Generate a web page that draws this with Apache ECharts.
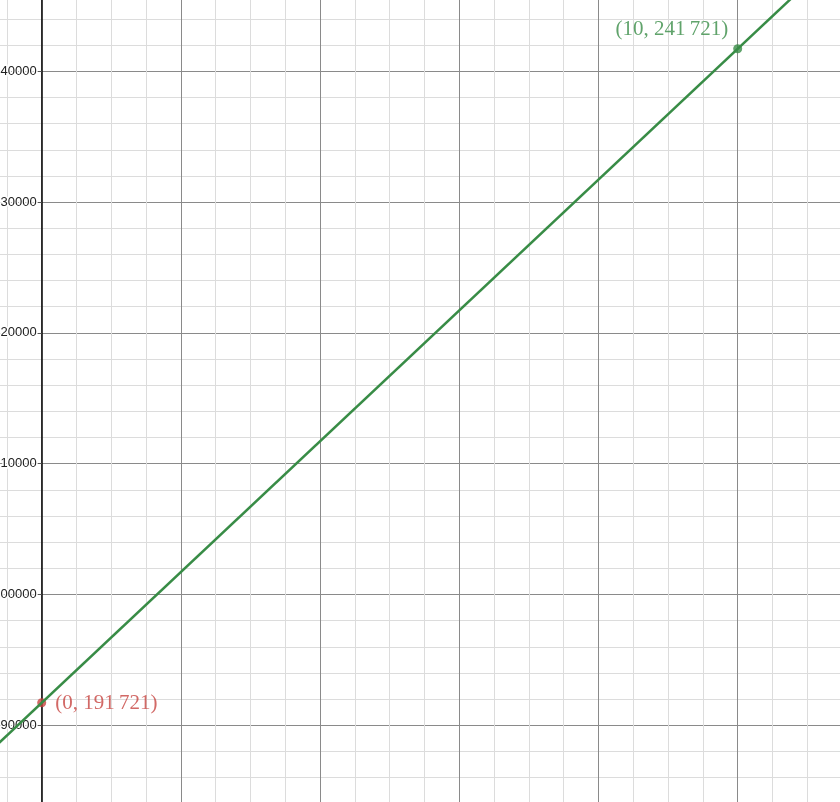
<!DOCTYPE html>
<html lang="en">
<head>
    <meta charset="UTF-8">
    <title>line through two points</title>
    <script src="https://cdn.jsdelivr.net/npm/echarts@6.0.0/dist/echarts.min.js"></script>
    <style>
        html, body { margin: 0; padding: 0; background: #fff; }
    </style>
</head>
<body>
<div id="main" style="width: 840px;height:802px;"></div>

<script>
    // data
    const pointX = [0, 10];
    const pointY = [191721, 241721];
    const pointNames = ['(0, 191\u2009721)', '(10, 241\u2009721)'];
    // the line runs past both points to the edges of the view
    const lineX = [-2, 12];
    const lineY = [181721, 251721];

    const red = '#c74440';
    const green = '#388c46';

    // grid is wider than the window so the view starts at x = -0.6
    const gridLeft = -97.5;
    const pxPerUnitX = 69.6;

    const myChart = echarts.init(document.getElementById('main'));
    myChart.setOption({
        animation: false,
        backgroundColor: '#fff',
        grid: {
            left: gridLeft,
            top: -59.5,
            width: 974.4,
            height: 915.6,
            outerBoundsMode: 'none',
            containLabel: false
        },
        xAxis: {
            type: 'value',
            min: -2,
            max: 12,
            interval: 2,
            axisLine: { show: false },
            axisTick: { show: false },
            axisLabel: { show: false },
            splitLine: { show: true, lineStyle: { color: '#8a8a8a', width: 1 } },
            minorTick: { show: false, splitNumber: 4 },
            minorSplitLine: { show: true, lineStyle: { color: '#dcdcdc', width: 1 } }
        },
        yAxis: {
            type: 'value',
            position: 'left',
            // move the y axis from the grid edge to x = 0
            offset: -2 * pxPerUnitX,
            min: 180000,
            max: 250000,
            interval: 10000,
            axisLine: { show: true, onZero: false, lineStyle: { color: '#111', width: 1.6 } },
            axisTick: { show: true, length: 5, lineStyle: { color: '#555', width: 1 } },
            axisLabel: {
                margin: 5,
                color: '#222',
                fontFamily: 'Liberation Sans',
                fontSize: 13,
                textBorderColor: '#fff',
                textBorderWidth: 3,
                formatter: (v) => String(v)
            },
            splitLine: { show: true, lineStyle: { color: '#8a8a8a', width: 1 } },
            minorTick: { show: false, splitNumber: 5 },
            minorSplitLine: { show: true, lineStyle: { color: '#dcdcdc', width: 1 } }
        },
        series: [
            {
                type: 'scatter',
                symbolSize: 9,
                itemStyle: { color: red },
                z: 2,
                data: [[pointX[0], pointY[0]]],
                label: {
                    show: true,
                    position: 'right',
                    distance: 9,
                    offset: [0, 1],
                    formatter: pointNames[0],
                    color: red,
                    fontFamily: 'Liberation Serif',
                    fontSize: 21
                }
            },
            {
                type: 'line',
                showSymbol: false,
                symbol: 'none',
                z: 3,
                lineStyle: { color: green, width: 2.5 },
                data: lineX.map((x, i) => [x, lineY[i]])
            },
            {
                type: 'scatter',
                symbolSize: 9,
                itemStyle: { color: green },
                z: 4,
                data: [[pointX[1], pointY[1]]],
                label: {
                    show: true,
                    position: 'left',
                    distance: 5,
                    offset: [0, -19],
                    formatter: pointNames[1],
                    color: green,
                    fontFamily: 'Liberation Serif',
                    fontSize: 21
                }
            }
        ]
    });
</script>
</body>
</html>
